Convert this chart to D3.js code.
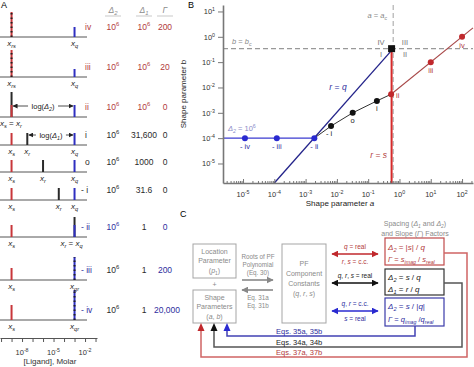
<!DOCTYPE html>
<html lang="en">
<head>
<meta charset="UTF-8">
<title>Shape parameters figure</title>
<script src="https://cdn.jsdelivr.net/npm/d3@7"></script>
<style>
  body { margin: 0; background: #fff; }
  svg { display: block; font-family: "Liberation Sans", Arial, sans-serif; }
</style>
</head>
<body>
<script>

// ---------- data, panel A ----------
var rowLabels = ["iv", "iii", "ii", "i", "o", "- i", "- ii", "- iii", "- iv"];
var rowColor = ["red", "red", "red", "black", "black", "black", "blue", "blue", "blue"];
var delta2Exp = [6, 6, 6, 6, 6, 6, 6, 6, 6];
var delta1Text = ["10^6", "10^6", "10^6", "31,600", "1000", "31.6", "1", "1", "1"];
var gammaText = ["200", "20", "0", "0", "0", "0", "0", "200", "20,000"];

// spikes: row, position (molar), relative height, kind
var spikeRow = [0, 0, 1, 1, 2, 2, 2, 3, 3, 3, 4, 4, 4, 5, 5, 5, 6, 6, 6, 7, 7, 8, 8];
var spikePos = [1e-9, 1e-3, 1e-9, 1e-3, 1e-9, 1e-9, 1e-3,
                1e-9, 3.16e-8, 1e-3, 1e-9, 1e-6, 1e-3, 1e-9, 3.16e-5, 1e-3,
                1e-9, 1e-3, 1e-3, 1e-9, 1e-3, 1e-9, 1e-3];
var spikeH = [25, 10, 27, 8, 25, 12, 12, 12, 12, 12, 12, 12, 12, 12, 12, 12, 12, 20, 12, 12, 23, 15, 30];
var spikeKind = ["rs", "q", "rs", "q", "r", "s", "q", "s", "r", "q", "s", "r", "q", "s", "r", "q",
                 "s", "r", "q", "s", "qr", "s", "qr"];

// spike labels
var labRow = [0, 0, 1, 1, 3, 3, 3, 4, 4, 4, 5, 5, 5, 6, 7, 7, 8, 8];
var labPos = [1e-9, 1e-3, 1e-9, 1e-3, 1e-9, 3.16e-8, 1e-3, 1e-9, 1e-6, 1e-3, 1e-9, 3.16e-5, 1e-3,
              1e-9, 1e-9, 1e-3, 1e-9, 1e-3];
var labSub = ["rs", "q", "rs", "q", "s", "r", "q", "s", "r", "q", "s", "r", "q", "s", "s", "qr", "s", "qr"];
var ligandTicks = [1e-10, 1e-9, 1e-8, 1e-7, 1e-6, 1e-5, 1e-4, 1e-3, 1e-2, 1e-1];
var ligandLabels = [1e-8, 1e-5, 1e-2];

// ---------- data, panel B ----------
var aCrit = 0.63, bCrit = 0.34, aRS = 0.56;
var blueA = [1.15e-5, 1.2e-4, 1.9e-3];
var blueB = [1e-4, 1e-4, 1e-4];
var blueLab = ["- iv", "- iii", "- ii"];
var blackA = [1.9e-3, 6.5e-3, 3.2e-2, 0.19, 0.54];
var blackB = [1e-4, 3.0e-4, 1.0e-3, 2.95e-3, 5.4e-3];
var blackLab = ["", "- i", "o", "i", ""];
var redA = [0.54, 10, 100];
var redB = [5.4e-3, 0.1, 1];
var redLab = ["ii", "iii", "iv"];
var rqLineA = [1e-4, 0.63], rqLineB = [1.7e-6, 0.34];
var rsLineA = [0.54, 224], rsLineB = [5.4e-3, 2.24];
var aTicks = [1e-5, 1e-4, 1e-3, 1e-2, 1e-1, 1, 10, 100];
var bTicks = [1e-5, 1e-4, 1e-3, 1e-2, 1e-1, 1, 10];

// colours
var COL = { red: "#b23a3c", black: "#2a2a2a", blue: "#2e2e9e", gray: "#8c8c8c" };

var svg = d3.select("body").append("svg")
    .attr("width", 474)
    .attr("height", 367);

// text with italic / sub / super parts: [string, flags]; flags: i = italic, ^ = sup, _ = sub
function rich(g, x, y, parts, size, anchor, color) {
    var t = g.append("text")
        .attr("x", x).attr("y", y)
        .attr("font-size", size)
        .attr("text-anchor", anchor || "start")
        .attr("fill", color || "#222");
    var shift = 0;
    parts.forEach(function (p) {
        var f = p[1] || "";
        var target = f.indexOf("^") >= 0 ? -size * 0.42 : (f.indexOf("_") >= 0 ? size * 0.28 : 0);
        var sp = t.append("tspan").text(p[0]).attr("dy", target - shift);
        if (target !== 0) sp.attr("font-size", size * 0.7);
        if (f.indexOf("i") >= 0) sp.attr("font-style", "italic");
        shift = target;
    });
    return t;
}

function pow10Parts(v) {
    return [["10", ""], [String(Math.round(Math.log10(v))), "^"]];
}

// ================= panel A =================
var gA = svg.append("g");
var rowY = [37, 77, 117, 145, 172, 200, 237, 280, 320];
var xA = d3.scaleLog()
    .domain([Math.pow(10, -10.1), Math.pow(10, -0.86)])
    .range([0, 97]);

gA.append("text").attr("x", 1).attr("y", 8).attr("font-size", 9).text("A");

// column headers
var headers = [[["Δ", "i"], ["2", "_i"]], [["Δ", "i"], ["1", "_i"]], [["Γ", "i"]]];
var colX = [113, 144, 165];
headers.forEach(function (h, i) {
    rich(gA, colX[i], 13, h, 8.5, "middle", COL.gray);
    gA.append("line")
        .attr("x1", colX[i] - 8).attr("x2", colX[i] + 8)
        .attr("y1", 16).attr("y2", 16)
        .attr("stroke", "#bbb").attr("stroke-width", 0.8);
});

// baselines
gA.selectAll("line.base")
    .data(rowY)
    .enter()
    .append("line")
    .attr("class", "base")
    .attr("x1", 0).attr("x2", 87)
    .attr("y1", function (d) { return d; })
    .attr("y2", function (d) { return d; })
    .attr("stroke", "#555")
    .attr("stroke-width", 1);

// spikes
var spikeColor = { s: "#c8363a", r: COL.black, q: "#2f2fc0", rs: "#c8363a", qr: "#2f2fc0" };
spikeRow.forEach(function (r, i) {
    var x = xA(spikePos[i]);
    var y0 = rowY[r];
    var k = spikeKind[i];
    gA.append("line")
        .attr("x1", x).attr("x2", x)
        .attr("y1", y0).attr("y2", y0 - spikeH[i])
        .attr("stroke", spikeColor[k])
        .attr("stroke-width", 2);
    if (k === "rs" || k === "qr") {
        gA.append("line")
            .attr("x1", x).attr("x2", x)
            .attr("y1", y0).attr("y2", y0 - spikeH[i])
            .attr("stroke", "#222")
            .attr("stroke-width", 2)
            .attr("stroke-dasharray", "1.5,3");
    }
});

// spike labels
labRow.forEach(function (r, i) {
    rich(gA, xA(labPos[i]), rowY[r] + 9, [["x", "i"], [labSub[i], "_i"]], 8, "middle", "#222");
});
rich(gA, 0, rowY[2] + 9, [["x", "i"], ["s", "_i"], [" = ", ""], ["x", "i"], ["r", "_i"]], 8, "start", "#222");
rich(gA, xA(1e-3) - 3, rowY[6] + 9, [["x", "i"], ["r", "_i"], [" = ", ""], ["x", "i"], ["q", "_i"]], 8, "middle", "#222");

// log(Δ) arrows
var defs = svg.append("defs");
function marker(id, color, size) {
    defs.append("marker")
        .attr("id", id)
        .attr("viewBox", "0 0 10 10")
        .attr("refX", 9).attr("refY", 5)
        .attr("markerWidth", size).attr("markerHeight", size)
        .attr("markerUnits", "userSpaceOnUse")
        .attr("orient", "auto-start-reverse")
        .append("path")
        .attr("d", "M0,0 L10,5 L0,10 z")
        .attr("fill", color);
}
marker("mk", "#222", 5);
marker("mred", "#c0282c", 7);
marker("mblk", "#111", 7);
marker("mblu", "#2a2ad0", 7);
marker("mgray", "#888", 7);

function logArrow(x1, x2, y, sub) {
    gA.append("line")
        .attr("x1", x1 + 1.5).attr("x2", x2 - 1.5)
        .attr("y1", y).attr("y2", y)
        .attr("stroke", "#222").attr("stroke-width", 0.8)
        .attr("marker-start", "url(#mk)").attr("marker-end", "url(#mk)");
    var mid = (x1 + x2) / 2;
    gA.append("rect").attr("x", mid - 15).attr("y", y - 5).attr("width", 30).attr("height", 10).attr("fill", "#fff");
    rich(gA, mid, y + 3, [["log(", ""], ["Δ", "i"], [sub, "_i"], [")", ""]], 7.5, "middle", "#222");
}
logArrow(xA(1e-9), xA(1e-3), rowY[2] - 11, "2");
logArrow(xA(3.16e-8), xA(1e-3), rowY[3] - 10, "1");

// row labels and values
rowLabels.forEach(function (lab, i) {
    var c = COL[rowColor[i]];
    var y = rowY[i] - 7;
    gA.append("text")
        .attr("x", lab.charAt(0) === "-" ? 81 : 85)
        .attr("y", y)
        .attr("font-size", 8.5)
        .attr("fill", c)
        .text(lab);
    rich(gA, colX[0], y, [["10", ""], [String(delta2Exp[i]), "^"]], 8.5, "middle", rowColor[i] === "blue" && i > 6 ? COL.black : c);
    var d1 = delta1Text[i];
    var d1c = rowColor[i] === "blue" ? COL.black : c;
    if (d1.indexOf("^") >= 0) {
        var p = d1.split("^");
        rich(gA, colX[1], y, [[p[0], ""], [p[1], "^"]], 8.5, "middle", d1c);
    } else {
        gA.append("text").attr("x", colX[1]).attr("y", y).attr("font-size", 8.5)
            .attr("text-anchor", "middle").attr("fill", d1c).text(d1);
    }
    gA.append("text").attr("x", colX[2] + (gammaText[i].length > 4 ? 2 : 0)).attr("y", y).attr("font-size", 8.5)
        .attr("text-anchor", "middle").attr("fill", c).text(gammaText[i]);
});

// ligand axis
var axA = gA.append("g").attr("transform", "translate(0,338)")
    .call(d3.axisBottom(xA).tickValues(ligandTicks).tickSize(4).tickSizeOuter(0).tickFormat(""));
axA.select(".domain").attr("stroke", "#555");
axA.selectAll(".tick line").attr("stroke", "#555");
ligandLabels.forEach(function (v) {
    rich(gA, xA(v), 355, pow10Parts(v), 7.5, "middle", "#333");
});
gA.append("text").attr("x", 50).attr("y", 364).attr("font-size", 8)
    .attr("text-anchor", "middle").attr("fill", "#333").text("[Ligand], Molar");

// ================= panel B =================
var gB = svg.append("g");
var xB = d3.scaleLog().domain([Math.pow(10, -5.64), Math.pow(10, 2.35)]).range([223, 473]);
var yB = d3.scaleLog().domain([Math.pow(10, -5.77), Math.pow(10, 1.255)]).range([183, 5]);

gB.append("text").attr("x", 188).attr("y", 8).attr("font-size", 9).text("B");

// critical dashed lines
gB.append("line")
    .attr("x1", xB.range()[0]).attr("x2", xB.range()[1])
    .attr("y1", yB(bCrit)).attr("y2", yB(bCrit))
    .attr("stroke", "#999").attr("stroke-width", 1.1).attr("stroke-dasharray", "5,3");
gB.append("line")
    .attr("x1", xB(aCrit)).attr("x2", xB(aCrit))
    .attr("y1", yB.range()[1]).attr("y2", yB.range()[0])
    .attr("stroke", "#aaa").attr("stroke-width", 1.1).attr("stroke-dasharray", "5,3");

var lineAB = d3.line()
    .x(function (d) { return xB(d[0]); })
    .y(function (d) { return yB(d[1]); });

// Δ2 = 10^6 horizontal
gB.append("path")
    .attr("d", lineAB([[xB.domain()[0], blueB[0]], [blueA[2], blueB[2]]]))
    .attr("stroke", "#3b3bd0").attr("stroke-width", 1.2).attr("fill", "none");
// r = q
gB.append("path")
    .attr("d", lineAB(d3.zip(rqLineA, rqLineB)))
    .attr("stroke", "#23238a").attr("stroke-width", 1.3).attr("fill", "none");
// black curve
gB.append("path")
    .attr("d", lineAB(d3.zip(blackA, blackB)))
    .attr("stroke", "#333").attr("stroke-width", 1).attr("fill", "none");
// red diagonal
gB.append("path")
    .attr("d", lineAB(d3.zip(rsLineA, rsLineB)))
    .attr("stroke", "#a84848").attr("stroke-width", 1.1).attr("fill", "none");
// r = s vertical
gB.append("line")
    .attr("x1", xB(aRS)).attr("x2", xB(aRS))
    .attr("y1", yB(bCrit)).attr("y2", yB.range()[0])
    .attr("stroke", "#d62a2a").attr("stroke-width", 2);

// points
function pts(A, B, color) {
    gB.selectAll(null)
        .data(d3.zip(A, B))
        .enter()
        .append("circle")
        .attr("cx", function (d) { return xB(d[0]); })
        .attr("cy", function (d) { return yB(d[1]); })
        .attr("r", 3)
        .attr("fill", color);
}
pts(blackA.slice(1, 4), blackB.slice(1, 4), "#111");
pts(blueA, blueB, "#2a2ad0");
pts(redA, redB, "#c0282c");
gB.append("rect")
    .attr("x", xB(aRS) - 3.5).attr("y", yB(bCrit) - 3.5)
    .attr("width", 7).attr("height", 7).attr("fill", "#111");

// point labels
blueLab.forEach(function (l, i) {
    gB.append("text").attr("x", xB(blueA[i])).attr("y", yB(blueB[i]) + 11)
        .attr("font-size", 7.5).attr("text-anchor", "middle").attr("fill", "#2e2e9e").text(l);
});
blackLab.forEach(function (l, i) {
    if (!l) return;
    gB.append("text").attr("x", xB(blackA[i]) - (i === 1 ? 2 : 0)).attr("y", yB(blackB[i]) + 10)
        .attr("font-size", 7.5).attr("text-anchor", "middle").attr("fill", "#222").text(l);
});
redLab.forEach(function (l, i) {
    gB.append("text").attr("x", xB(redA[i]) + (i === 0 ? 5 : 0)).attr("y", yB(redB[i]) + (i === 0 ? 4 : 11))
        .attr("font-size", 7.5).attr("text-anchor", i === 0 ? "start" : "middle").attr("fill", "#b23a3c").text(l);
});

// annotations
rich(gB, 228, yB(1e-4) - 7, [["Δ", "i"], ["2", "_i"], [" = 10", ""], ["6", "^"]], 7.5, "start", "#8a8ac8");
rich(gB, 338, 90, [["r", "i"], [" = ", ""], ["q", "i"]], 8.5, "middle", "#2e2e9e");
rich(gB, 387, 158, [["r", "i"], [" = ", ""], ["s", "i"]], 8.5, "end", "#b23a3c");
rich(gB, 387, 18, [["a", "i"], [" = ", ""], ["a", "i"], ["c", "_i"]], 7.5, "end", "#888");
rich(gB, 232, 44, [["b", "i"], [" = ", ""], ["b", "i"], ["c", "_i"]], 7.5, "start", "#888");
var quad = [["IV", 381, 45], ["III", 405, 45], ["I", 381, 57], ["II", 405, 57]];
quad.forEach(function (q) {
    gB.append("text").attr("x", q[1]).attr("y", q[2]).attr("font-size", 7.5)
        .attr("text-anchor", "middle").attr("fill", "#777").text(q[0]);
});

// axes
var allA = xB.ticks().filter(function (v) { return v >= xB.domain()[0] && v <= xB.domain()[1]; });
var axX = gB.append("g").attr("transform", "translate(0,183)")
    .call(d3.axisBottom(xB).tickValues(allA).tickSizeInner(-4).tickSizeOuter(0).tickFormat(""));
axX.selectAll(".tick line")
    .attr("stroke", "#777")
    .attr("y2", function (d) { return Math.abs(Math.log10(d) - Math.round(Math.log10(d))) < 1e-6 ? -4 : -2; });
axX.select(".domain").attr("stroke", "#777").attr("stroke-width", 1.6);
aTicks.forEach(function (v) {
    rich(gB, xB(v), 197, pow10Parts(v), 7.5, "middle", "#333");
});
gB.append("text").attr("x", 340).attr("y", 206).attr("font-size", 8).attr("text-anchor", "middle").attr("fill", "#222")
    .text("Shape parameter ").append("tspan").attr("font-style", "italic").text("a");

var axY = gB.append("g").attr("transform", "translate(223,0)")
    .call(d3.axisLeft(yB).tickValues(bTicks).tickSize(5).tickSizeOuter(0).tickFormat(""));
axY.select(".domain").attr("stroke", "#777").attr("stroke-width", 1.6);
axY.selectAll(".tick line").attr("stroke", "#777");
bTicks.forEach(function (v) {
    rich(gB, 215, yB(v) + 3, pow10Parts(v), 7.5, "end", "#333");
});
gB.append("text").attr("transform", "translate(186,94) rotate(-90)")
    .attr("font-size", 8).attr("text-anchor", "middle").attr("fill", "#222")
    .text("Shape parameter b");

// ================= panel C =================
var gC = svg.append("g");
gC.append("text").attr("x", 180).attr("y", 217).attr("font-size", 9).text("C");

var boxGray = "#a5a5a5", txtGray = "#8a8a8a";
function box(x, y, w, h, color, sw) {
    gC.append("rect").attr("x", x).attr("y", y).attr("width", w).attr("height", h)
        .attr("fill", "none").attr("stroke", color).attr("stroke-width", sw || 1);
}
box(193, 244, 43, 34, boxGray);
box(193, 290, 43, 33, boxGray);
box(282, 244, 44, 79, boxGray);
box(385, 238, 59, 27, "#c04a4a", 1.2);
box(385, 269, 59, 26, "#333", 1.2);
box(385, 298, 59, 28, "#3a3aa8", 1.2);

function ctext(x, y, parts, size, color, anchor) {
    return rich(gC, x, y, parts, size, anchor || "middle", color);
}
ctext(214.5, 254, [["Location", ""]], 7, txtGray);
ctext(214.5, 263, [["Parameter", ""]], 7, txtGray);
ctext(214.5, 273, [["(", ""], ["p", "i"], ["1", "_"], [")", ""]], 7, txtGray);
ctext(214.5, 287, [["+", ""]], 7, txtGray);
ctext(214.5, 300, [["Shape", ""]], 7, txtGray);
ctext(214.5, 309, [["Parameters", ""]], 7, txtGray);
ctext(214.5, 319, [["(", ""], ["a", "i"], [", ", ""], ["b", "i"], [")", ""]], 7, txtGray);

ctext(258, 259, [["Roots of PF", ""]], 6.3, txtGray);
ctext(258, 267, [["Polynomial", ""]], 6.3, txtGray);
ctext(258, 275, [["(Eq. 30)", ""]], 6.3, txtGray);
ctext(258, 300, [["Eq. 31a", ""]], 6.3, txtGray);
ctext(258, 308, [["Eq. 31b", ""]], 6.3, txtGray);
gC.append("line").attr("x1", 242).attr("x2", 273).attr("y1", 280).attr("y2", 280)
    .attr("stroke", "#888").attr("stroke-width", 1.6).attr("marker-end", "url(#mgray)");
gC.append("line").attr("x1", 273).attr("x2", 242).attr("y1", 290).attr("y2", 290)
    .attr("stroke", "#888").attr("stroke-width", 1.6).attr("marker-end", "url(#mgray)");

ctext(304, 266, [["PF", ""]], 7, txtGray);
ctext(304, 276, [["Component", ""]], 7, txtGray);
ctext(304, 286, [["Constants", ""]], 7, txtGray);
ctext(304, 296, [["(", ""], ["q", "i"], [", ", ""], ["r", "i"], [", ", ""], ["s", "i"], [")", ""]], 7, txtGray);

ctext(415, 226, [["Spacing (", ""], ["Δ", "i"], ["1", "_i"], [" and ", ""], ["Δ", "i"], ["2", "_i"], [")", ""]], 7, txtGray);
ctext(415, 236, [["and Slope (", ""], ["Γ", "i"], [") Factors", ""]], 7, txtGray);

// double arrows
var dbl = [[254, "#c0282c", "mred"], [283, "#111", "mblk"], [311, "#2a2ad0", "mblu"]];
dbl.forEach(function (d) {
    gC.append("line").attr("x1", 332).attr("x2", 378).attr("y1", d[0]).attr("y2", d[0])
        .attr("stroke", d[1]).attr("stroke-width", 1.6)
        .attr("marker-start", "url(#" + d[2] + ")").attr("marker-end", "url(#" + d[2] + ")");
});
var cRed = "#b23a3c", cBlk = "#222", cBlu = "#2e2e9e";
ctext(355, 249, [["q", "i"], [" = real", ""]], 6.5, cRed);
ctext(355, 264, [["r", "i"], [", ", ""], ["s", "i"], [" = c.c.", ""]], 6.5, cRed);
ctext(355, 278, [["q", "i"], [", ", ""], ["r", "i"], [", ", ""], ["s", "i"], [" = real", ""]], 6.5, cBlk);
ctext(355, 306, [["q", "i"], [", ", ""], ["r", "i"], [" = c.c.", ""]], 6.5, cBlu);
ctext(355, 321, [["s", "i"], [" = real", ""]], 6.5, cBlu);

ctext(388, 250, [["Δ", "i"], ["2", "_i"], [" = |", ""], ["s", "i"], ["| / ", ""], ["q", "i"]], 8, cRed, "start");
ctext(388, 262, [["Γ", "i"], [" = ", ""], ["s", "i"], ["imag", "_i"], [" / ", ""], ["s", "i"], ["real", "_i"]], 7.5, cRed, "start");
ctext(388, 280, [["Δ", "i"], ["2", "_i"], [" = ", ""], ["s", "i"], [" / ", ""], ["q", "i"]], 8, cBlk, "start");
ctext(388, 292, [["Δ", "i"], ["1", "_i"], [" = ", ""], ["r", "i"], [" / ", ""], ["q", "i"]], 8, cBlk, "start");
ctext(388, 309, [["Δ", "i"], ["2", "_i"], [" = ", ""], ["s", "i"], [" / |", ""], ["q", "i"], ["|", ""]], 8, cBlu, "start");
ctext(388, 322, [["Γ", "i"], [" = ", ""], ["q", "i"], ["imag", "_i"], [" /", ""], ["q", "i"], ["real", "_i"]], 7.5, cBlu, "start");

// feedback lines to shape parameters
var fb = [["M444,253H467V357H201V330", "#d06464", 201], ["M444,283H462V347H214V330", "#555", 214], ["M415,326V336H227V330", "#4242b4", 227]];
var headCol = ["#c0282c", "#111", "#2a2ad0"];
fb.forEach(function (f, i) {
    gC.append("path").attr("d", f[0]).attr("fill", "none").attr("stroke", f[1]).attr("stroke-width", 1.5);
    gC.append("path").attr("d", "M" + (f[2] - 3.5) + ",331L" + f[2] + ",323L" + (f[2] + 3.5) + ",331z").attr("fill", headCol[i]);
});
ctext(276, 334, [["Eqs. 35a, 35b", ""]], 7.5, cBlu, "start");
ctext(276, 345, [["Eqs. 34a, 34b", ""]], 7.5, cBlk, "start");
ctext(276, 355, [["Eqs. 37a, 37b", ""]], 7.5, cRed, "start");

</script>
</body>
</html>
